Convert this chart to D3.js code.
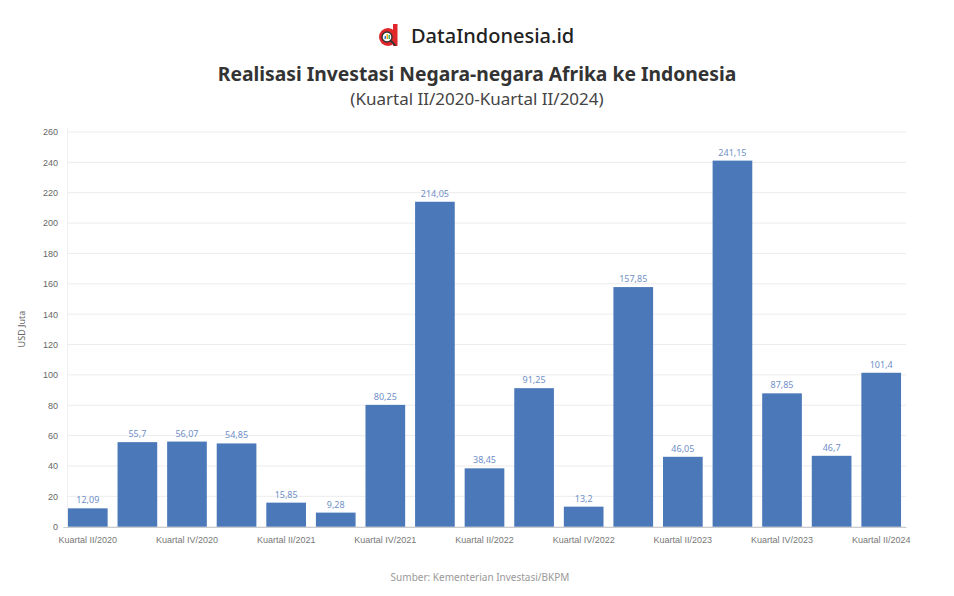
<!DOCTYPE html>
<html>
<head>
<meta charset="utf-8">
<script src="https://cdn.jsdelivr.net/npm/d3@7/dist/d3.min.js"></script>
<style>
  html, body { margin: 0; padding: 0; background: #fff; }
  svg { display: block; font-family: "Source Sans Pro", "Noto Sans", "Open Sans", sans-serif; }
</style>
</head>
<body>
<svg id="chart" width="954" height="596"></svg>
<script>
const categories = [
  "Kuartal II/2020", "Kuartal III/2020", "Kuartal IV/2020", "Kuartal I/2021",
  "Kuartal II/2021", "Kuartal III/2021", "Kuartal IV/2021", "Kuartal I/2022",
  "Kuartal II/2022", "Kuartal III/2022", "Kuartal IV/2022", "Kuartal I/2023",
  "Kuartal II/2023", "Kuartal III/2023", "Kuartal IV/2023", "Kuartal I/2024",
  "Kuartal II/2024"
];
const values = [12.09, 55.7, 56.07, 54.85, 15.85, 9.28, 80.25, 214.05, 38.45, 91.25, 13.2, 157.85, 46.05, 241.15, 87.85, 46.7, 101.4];
const yTicks = [0, 20, 40, 60, 80, 100, 120, 140, 160, 180, 200, 220, 240, 260];
const xTickLabels = ["Kuartal II/2020", "Kuartal IV/2020", "Kuartal II/2021", "Kuartal IV/2021", "Kuartal II/2022", "Kuartal IV/2022", "Kuartal II/2023", "Kuartal IV/2023", "Kuartal II/2024"];

const svg = d3.select("#chart");
const W = 954;

const x = d3.scaleBand().domain(categories).range([63, 906]).paddingInner(0.2).paddingOuter(0.1);
const y = d3.scaleLinear().domain([0, 260]).range([526.7, 132]);

const fmt = v => d3.format(",.2~f")(v).replace(".", ",");

// Header: logo
const logo = svg.append("g").attr("transform", "translate(388,36)");
logo.append("circle").attr("r", 9).attr("cx", 0).attr("cy", 1).attr("fill", "#e0262a");
logo.append("rect").attr("x", 5).attr("y", -12).attr("width", 4.5).attr("height", 22).attr("fill", "#e0262a");
logo.append("circle").attr("r", 5).attr("cx", -1).attr("cy", 1).attr("fill", "#fff").attr("stroke", "#333").attr("stroke-width", 1.4);
logo.append("rect").attr("x", -3.5).attr("y", 0).attr("width", 1.5).attr("height", 3).attr("fill", "#3a7bd5");
logo.append("rect").attr("x", -1.5).attr("y", -2).attr("width", 1.5).attr("height", 5).attr("fill", "#f2b01e");
logo.append("rect").attr("x", 0.5).attr("y", -1).attr("width", 1.5).attr("height", 4).attr("fill", "#3cb371");
logo.append("line").attr("x1", 3).attr("y1", 5).attr("x2", 7).attr("y2", 9).attr("stroke", "#333").attr("stroke-width", 2).attr("stroke-linecap", "round");

svg.append("text").attr("x", 411).attr("y", 43).attr("font-size", 20).attr("font-weight", 500)
  .attr("fill", "#222").text("DataIndonesia.id");

svg.append("text").attr("x", W / 2).attr("y", 81).attr("text-anchor", "middle")
  .attr("font-size", 19.3).attr("font-weight", 700).attr("fill", "#333")
  .text("Realisasi Investasi Negara-negara Afrika ke Indonesia");
svg.append("text").attr("x", W / 2).attr("y", 105).attr("text-anchor", "middle")
  .attr("font-size", 17).attr("fill", "#444")
  .text("(Kuartal II/2020-Kuartal II/2024)");

// Gridlines
svg.append("g").selectAll("line").data(yTicks).join("line")
  .attr("x1", 67).attr("x2", 906)
  .attr("y1", d => y(d)).attr("y2", d => y(d))
  .attr("stroke", "#ececec").attr("stroke-width", 1);

// Y axis
const yAxis = svg.append("g").attr("transform", "translate(58,0)")
  .call(d3.axisLeft(y).tickValues(yTicks).tickSize(0).tickPadding(0).tickFormat(d3.format("d")));
yAxis.select(".domain").remove();
yAxis.selectAll("text").attr("font-size", 9).attr("fill", "#666").attr("font-family", "inherit");

svg.append("line").attr("x1", 67.5).attr("x2", 67.5).attr("y1", 128).attr("y2", 527)
  .attr("stroke", "#f0f0f0");

svg.append("text").attr("transform", "translate(25,329) rotate(-90)").attr("text-anchor", "middle")
  .attr("font-size", 9).attr("fill", "#666").text("USD Juta");

// Bars
svg.append("g").selectAll("rect").data(values).join("rect")
  .attr("x", (d, i) => x(categories[i]))
  .attr("width", x.bandwidth())
  .attr("y", d => y(d))
  .attr("height", d => y(0) - y(d))
  .attr("fill", "#4a78b8");

// Bar labels
svg.append("g").selectAll("text").data(values).join("text")
  .attr("x", (d, i) => x(categories[i]) + x.bandwidth() / 2)
  .attr("y", d => y(d) - 5)
  .attr("text-anchor", "middle")
  .attr("font-size", 9).attr("fill", "#6f8fc8")
  .text(d => fmt(d));

// X axis
const xAxis = svg.append("g").attr("transform", "translate(0,527)")
  .call(d3.axisBottom(x).tickValues(xTickLabels).tickSize(0).tickPadding(10));
xAxis.select(".domain").attr("stroke", "#ccc");
xAxis.selectAll("text").attr("font-size", 9).attr("fill", "#777").attr("font-family", "inherit");

// Source
svg.append("text").attr("x", 480).attr("y", 581).attr("text-anchor", "middle")
  .attr("font-size", 10).attr("fill", "#999")
  .text("Sumber: Kementerian Investasi/BKPM");
</script>
</body>
</html>
